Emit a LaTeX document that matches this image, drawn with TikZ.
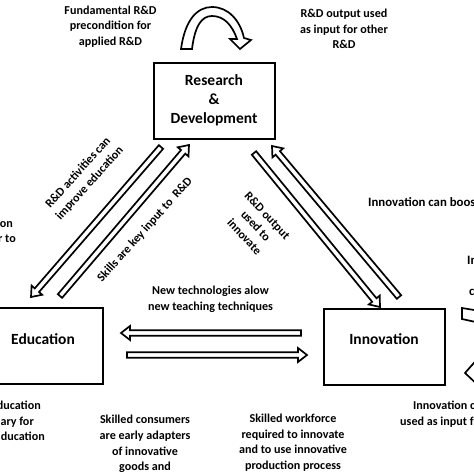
\documentclass[tikz,border=0pt]{standalone}
\usepackage{fontspec}
\setmainfont{Carlito}
\usepackage{xcolor}
\usetikzlibrary{calc}

\tikzset{
    mainbox/.style={draw, line width=2pt, minimum width=121pt, minimum height=76pt, inner sep=0pt, font=\fontsize{15.5}{19}\selectfont\bfseries, align=center},
    note/.style={inner sep=0pt, font=\fontsize{12.1}{15.6}\selectfont\bfseries, align=center},
    wide note/.style={note, font=\fontsize{12.8}{15.6}\selectfont\bfseries},
    arrowline/.style={draw, line width=1.7pt, fill=white, line join=miter}
}

\newcommand{\hollowarrow}[2]{%
    \coordinate (hb) at ($(#2)!9pt!(#1)$);
    \draw[arrowline] ($(#1)!2.8pt!90:(#2)$) -- ($(hb)!2.8pt!-90:(#1)$) -- ($(hb)!7pt!-90:(#1)$) -- (#2)
        -- ($(hb)!7pt!90:(#1)$) -- ($(hb)!2.8pt!90:(#1)$) -- ($(#1)!2.8pt!-90:(#2)$) -- cycle;
}

\begin{document}
\begin{tikzpicture}[x=1pt, y=-1pt]
    \useasboundingbox (0,0) rectangle (474,474);
    \clip (0,0) rectangle (474,474);

    % the three boxes
    \node[mainbox] (research) at (214,100.5) {Research\\\&\\Development};
    \node[mainbox] (education) at (42.5,346) {};
    \node[mainbox] (innovation) at (384,346.5) {};
    \node[mainbox, draw=none, minimum height=0pt] (edulabel) at (43,339) {Education};
    \node[mainbox, draw=none, minimum height=0pt] (innolabel) at (384,339) {Innovation};

    % ends of the arrows
    \coordinate (rdeduA) at (161,147);
    \coordinate (rdeduB) at (31,297);
    \coordinate (edurdA) at (60,296);
    \coordinate (edurdB) at (189,145);
    \coordinate (rdinnA) at (254,153);
    \coordinate (rdinnB) at (380,307);
    \coordinate (innrdA) at (399,297);
    \coordinate (innrdB) at (272,146);
    \coordinate (inneduA) at (301,333);
    \coordinate (inneduB) at (121,333);
    \coordinate (eduinnA) at (127,355);
    \coordinate (eduinnB) at (307,355);

    \hollowarrow{rdeduA}{rdeduB}
    \hollowarrow{edurdA}{edurdB}
    \hollowarrow{rdinnA}{rdinnB}
    \hollowarrow{innrdA}{innrdB}
    \hollowarrow{inneduA}{inneduB}
    \hollowarrow{eduinnA}{eduinnB}

    % curved arrow on top of the R&D box
    \draw[arrowline] (181,49) .. controls (185,20) and (197,7) .. (212,7)
        .. controls (228,7) and (240,20) .. (244,38) -- (251,40) -- (240,49) -- (230,39) -- (237,39)
        .. controls (232,25) and (224,16) .. (212,16)
        .. controls (202,16) and (195,25) .. (192,49) -- cycle;

    % cut off arrow at the right side
    \draw[line width=1.7pt] (480,311) -- (462,308) -- (462,319) -- (480,323);
    \draw[line width=1.7pt] (480,356) -- (465,373) -- (480,387);

    % labels
    \node[note] (fundnote) at (110.5,26.5) {Fundamental R\&D\\precondition for\\applied R\&D};
    \node[note] (outnote) at (344,29) {R\&D output used\\as input for other\\R\&D};
    \node[note, rotate=48] (impnote) at (84,178) {R\&D activities can\\improve education};
    \node[note, rotate=48] (skillnote) at (145,230) {Skills are key input to\ \ R\&D};
    \node[note, rotate=-47] (usednote) at (256,226) {R\&D output\\used to\\innovate};
    \node[note] (technote) at (210.5,299) {New technologies alow\\new teaching techniques};
    \node[note] (consnote) at (145,444) {Skilled consumers\\are early adapters\\of innovative\\goods and};
    \node[note] (worknote) at (293,442.5) {Skilled workforce\\required to innovate\\and to use innovative\\production process};
    \node[wide note, anchor=west] (boostnote) at (368,202) {Innovation can boost};
    \node[wide note, anchor=west] (innright) at (467,260) {In};
    \node[wide note, anchor=west] (cright) at (469,292) {c};
    \node[note, anchor=north west, align=left] (usednoteb) at (400,401) {\kern13pt Innovation c\\used as input f};
    \node[note, anchor=north east, align=right] (leftlow) at (45,401) {ducation\kern4pt\\ary for\kern11pt\\ducation};
    \node[note, anchor=north east, align=right] (leftup) at (16,221) {on\kern3pt\\r to};
\end{tikzpicture}
\end{document}
